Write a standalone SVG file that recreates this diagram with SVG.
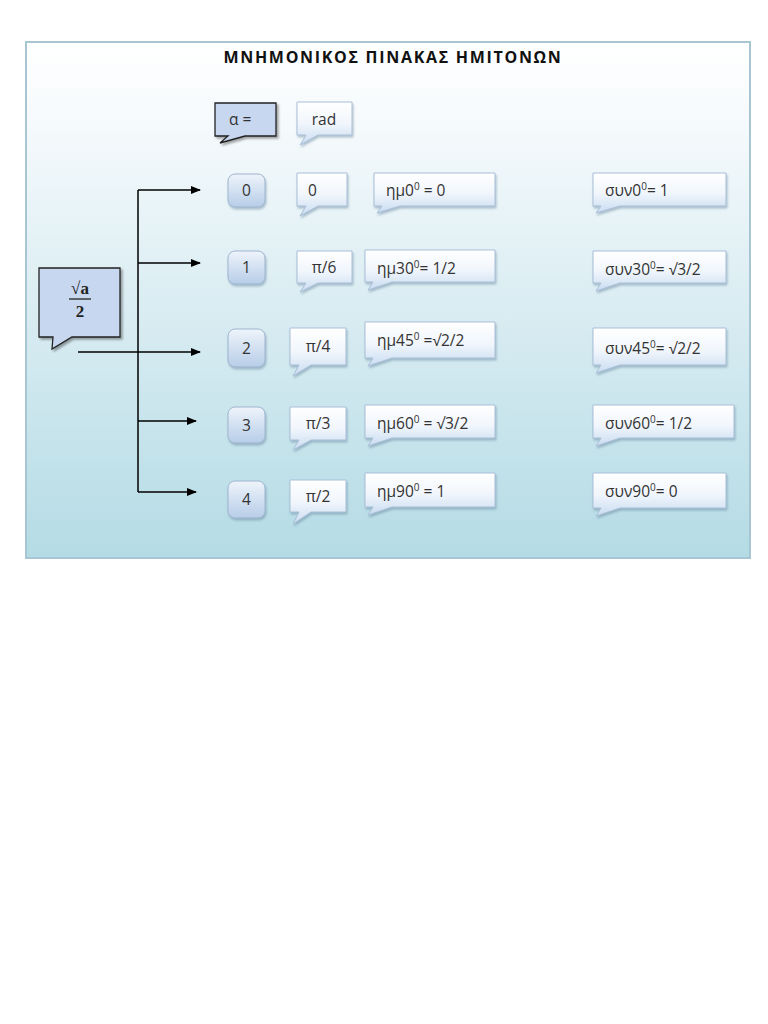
<svg xmlns="http://www.w3.org/2000/svg" width="768" height="1024" viewBox="0 0 768 1024">
<defs>
<linearGradient id="bg" x1="0" y1="0" x2="0" y2="1">
<stop offset="0" stop-color="#ffffff"/>
<stop offset="0.15" stop-color="#f6fafc"/>
<stop offset="1" stop-color="#b4dbe5"/>
</linearGradient>
<linearGradient id="cb" x1="0" y1="0" x2="0" y2="1">
<stop offset="0" stop-color="#ffffff"/>
<stop offset="0.5" stop-color="#f1f6fc"/>
<stop offset="1" stop-color="#c9dcf1"/>
</linearGradient>
<linearGradient id="nb" x1="0" y1="0" x2="0" y2="1">
<stop offset="0" stop-color="#eef4fb"/>
<stop offset="1" stop-color="#b7cde8"/>
</linearGradient>
<filter id="sh" x="-20%" y="-20%" width="140%" height="160%">
<feDropShadow dx="1" dy="2" stdDeviation="1.2" flood-color="#5a7a96" flood-opacity="0.45"/>
</filter>
<filter id="sh2" x="-20%" y="-20%" width="140%" height="160%">
<feDropShadow dx="2" dy="2" stdDeviation="1" flood-color="#000" flood-opacity="0.35"/>
</filter>
<marker id="ar" markerWidth="10" markerHeight="8" refX="9" refY="4" orient="auto" markerUnits="userSpaceOnUse">
<path d="M0,0 L10,4 L0,8 Z" fill="#000"/>
</marker>
<style>
.t{font-family:"Open Sans","DejaVu Sans",sans-serif;font-size:15.5px;fill:#333}
.c{fill:url(#cb);stroke:#a9bfd8;stroke-width:1;filter:url(#sh)}
.n{fill:url(#nb);stroke:#9fb5cf;stroke-width:1;filter:url(#sh)}
.d{fill:#c7d7ef;stroke:#222;stroke-width:1.3;filter:url(#sh2)}
.sup{font-size:10px}
.ln{stroke:#000;stroke-width:1.5;fill:none}
</style>
</defs>
<rect x="26" y="42" width="724" height="516" fill="url(#bg)" stroke="#a7c6d2" stroke-width="2"/>
<text x="393" y="63" text-anchor="middle" font-family="Open Sans, DejaVu Sans, sans-serif" font-size="16" font-weight="bold" fill="#111" letter-spacing="1.7">ΜΝΗΜΟΝΙΚΟΣ ΠΙΝΑΚΑΣ ΗΜΙΤΟΝΩΝ</text>

<g id="connectors">
<path class="ln" d="M138,190 V492"/>
<path class="ln" d="M138,190 H200" marker-end="url(#ar)"/>
<path class="ln" d="M138,263 H200" marker-end="url(#ar)"/>
<path class="ln" d="M78,352 H200" marker-end="url(#ar)"/>
<path class="ln" d="M138,421 H196" marker-end="url(#ar)"/>
<path class="ln" d="M138,492 H196" marker-end="url(#ar)"/>
</g>

<g id="sqrt">
<path class="d" d="M39,268 H120 V337 H72 L52,349 L53,337 H39 Z"/>
<text x="80" y="294" text-anchor="middle" font-family="Liberation Serif, serif" font-size="17" font-weight="bold" fill="#222">√a</text>
<line x1="69" y1="299" x2="91" y2="299" stroke="#222" stroke-width="1.3"/>
<text x="80" y="317" text-anchor="middle" font-family="Liberation Serif, serif" font-size="17" font-weight="bold" fill="#222">2</text>
</g>

<g id="alpha">
<path class="d" d="M215,103 H276 V136 H245 L220,143 L228,136 H215 Z"/>
<text class="t" x="229" y="125" font-size="13">α =</text>
</g>
<g id="rad">
<path class="c" d="M297,102 H352 V135 H318 L300,145 L306,135 H297 Z"/>
<text class="t" x="324" y="125" text-anchor="middle">rad</text>
</g>

<g id="n0"><rect class="n" x="228" y="174" width="37" height="33" rx="7"/><text class="t" x="246.5" y="196" text-anchor="middle">0</text></g>
<g id="n1"><rect class="n" x="228" y="251" width="37" height="33" rx="7"/><text class="t" x="246.5" y="273" text-anchor="middle">1</text></g>
<g id="n2"><rect class="n" x="228" y="329" width="37" height="38" rx="7"/><text class="t" x="246.5" y="354" text-anchor="middle">2</text></g>
<g id="n3"><rect class="n" x="228" y="407" width="37" height="36" rx="7"/><text class="t" x="246.5" y="431" text-anchor="middle">3</text></g>
<g id="n4"><rect class="n" x="228" y="481" width="37" height="37" rx="7"/><text class="t" x="246.5" y="505" text-anchor="middle">4</text></g>

<g id="r0"><path class="c" d="M297,173 H347 V206 H318 L300,216 L306,206 H297 Z"/><text class="t" x="308" y="196">0</text></g>
<g id="r1"><path class="c" d="M297,251 H352 V283 H318 L300,292 L306,283 H297 Z"/><text class="t" x="324" y="273" text-anchor="middle">π/6</text></g>
<g id="r2"><path class="c" d="M290,328 H346 V365 H311 L293,376 L299,365 H290 Z"/><text class="t" x="318" y="352" text-anchor="middle">π/4</text></g>
<g id="r3"><path class="c" d="M290,407 H346 V440 H311 L293,450 L299,440 H290 Z"/><text class="t" x="318" y="429" text-anchor="middle">π/3</text></g>
<g id="r4"><path class="c" d="M290,480 H346 V512 H311 L293,524 L299,512 H290 Z"/><text class="t" x="318" y="502" text-anchor="middle">π/2</text></g>

<g id="s0"><path class="c" d="M374,173 H495 V206 H400 L377,213 L382,206 H374 Z"/><text class="t" x="386" y="196">ημ0<tspan class="sup" dy="-6">0</tspan><tspan dy="6"> = 0</tspan></text></g>
<g id="s1"><path class="c" d="M365,250 H495 V282 H392 L368,290 L373,282 H365 Z"/><text class="t" x="377" y="274">ημ30<tspan class="sup" dy="-6">0</tspan><tspan dy="6">= 1/2</tspan></text></g>
<g id="s2"><path class="c" d="M365,322 H495 V358 H392 L368,366 L373,358 H365 Z"/><text class="t" x="377" y="346">ημ45<tspan class="sup" dy="-6">0</tspan><tspan dy="6"> =√2/2</tspan></text></g>
<g id="s3"><path class="c" d="M365,405 H495 V438 H392 L368,446 L373,438 H365 Z"/><text class="t" x="377" y="429">ημ60<tspan class="sup" dy="-6">0</tspan><tspan dy="6"> = √3/2</tspan></text></g>
<g id="s4"><path class="c" d="M365,473 H495 V507 H392 L368,515 L373,507 H365 Z"/><text class="t" x="377" y="497">ημ90<tspan class="sup" dy="-6">0</tspan><tspan dy="6"> = 1</tspan></text></g>

<g id="c0"><path class="c" d="M593,173 H726 V206 H620 L596,213 L601,206 H593 Z"/><text class="t" x="605" y="196">συν0<tspan class="sup" dy="-6">0</tspan><tspan dy="6">= 1</tspan></text></g>
<g id="c1"><path class="c" d="M593,251 H726 V283 H620 L596,291 L601,283 H593 Z"/><text class="t" x="605" y="275">συν30<tspan class="sup" dy="-6">0</tspan><tspan dy="6">= √3/2</tspan></text></g>
<g id="c2"><path class="c" d="M593,328 H726 V365 H620 L596,373 L601,365 H593 Z"/><text class="t" x="605" y="354">συν45<tspan class="sup" dy="-6">0</tspan><tspan dy="6">= √2/2</tspan></text></g>
<g id="c3"><path class="c" d="M593,405 H734 V438 H620 L596,446 L601,438 H593 Z"/><text class="t" x="605" y="429">συν60<tspan class="sup" dy="-6">0</tspan><tspan dy="6">= 1/2</tspan></text></g>
<g id="c4"><path class="c" d="M593,473 H726 V508 H620 L596,516 L601,508 H593 Z"/><text class="t" x="605" y="497">συν90<tspan class="sup" dy="-6">0</tspan><tspan dy="6">= 0</tspan></text></g>
</svg>
